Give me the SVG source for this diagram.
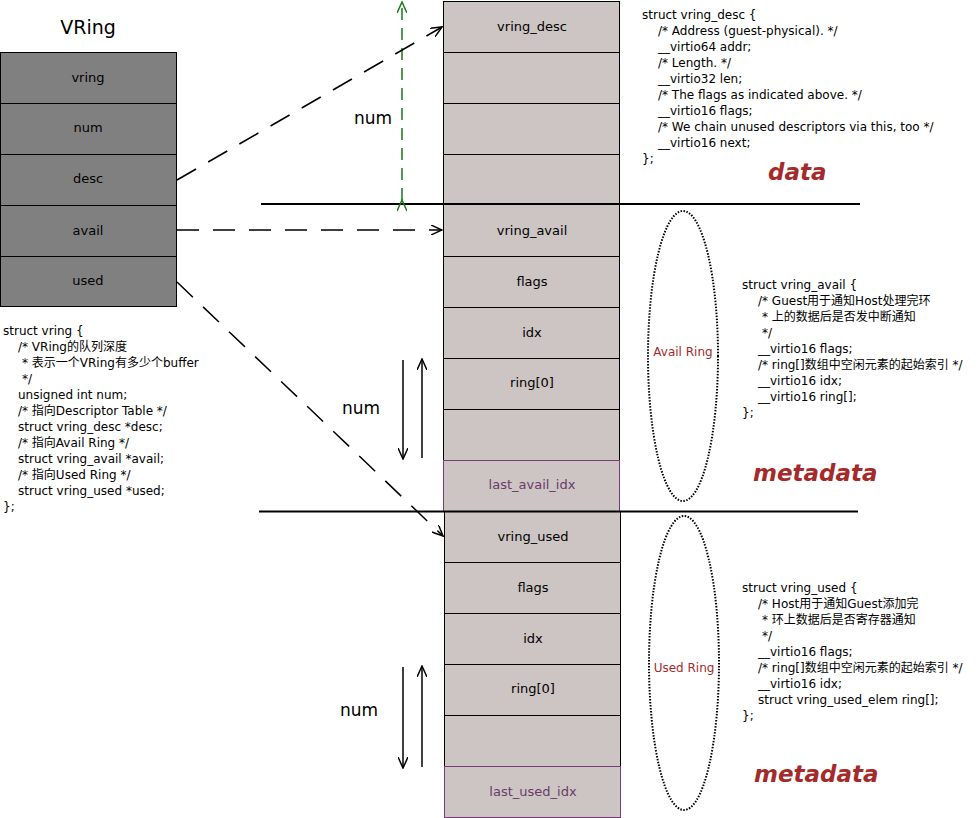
<svg xmlns="http://www.w3.org/2000/svg" width="978" height="818" viewBox="0 0 978 818">
<style>
text{font-family:"DejaVu Sans","Noto Sans CJK SC",sans-serif;fill:#000}
.l{fill:#808080;stroke:#000;stroke-width:1}
.c{fill:#cdc5c3;stroke:#000;stroke-width:1}
.cp{fill:#cdc5c3;stroke:#7a3a7a;stroke-width:1}
.t{font-size:13px;text-anchor:middle}
.tp{font-size:13px;text-anchor:middle;fill:#6a3a6a}
.code{font-size:12px}
.big{font-size:23px;font-weight:bold;font-style:italic;fill:#a52a2a}
.ring{font-size:12px;text-anchor:middle;fill:#a52a2a}
.num{font-size:17px}
.d{stroke:#000;stroke-width:1.5;fill:none;stroke-dasharray:22,14}
.a{stroke:#000;stroke-width:1.5;fill:none}
</style>
<defs>
<marker id="ah" markerWidth="12" markerHeight="10" refX="11" refY="5" orient="auto" markerUnits="userSpaceOnUse"><path d="M0,0 L11,5 L0,10" fill="none" stroke="#000" stroke-width="1.5"/></marker>
<marker id="ag" markerWidth="12" markerHeight="10" refX="11" refY="5" orient="auto" markerUnits="userSpaceOnUse"><path d="M0,0 L11,5 L0,10" fill="none" stroke="#1a7a1a" stroke-width="1.5"/></marker>
</defs>
<rect width="978" height="818" fill="#fff"/>
<text x="88" y="34" style="font-size:19px;text-anchor:middle">VRing</text>
<g id="vring-struct">
<rect class="l" x="0.5" y="52.5" width="176" height="51"/><text class="t" x="88" y="82">vring</text>
<rect class="l" x="0.5" y="103.5" width="176" height="51"/><text class="t" x="88" y="132">num</text>
<rect class="l" x="0.5" y="154.5" width="176" height="51"/><text class="t" x="88" y="183">desc</text>
<rect class="l" x="0.5" y="205.5" width="176" height="51"/><text class="t" x="88" y="235">avail</text>
<rect class="l" x="0.5" y="256.5" width="176" height="50"/><text class="t" x="88" y="285">used</text>
</g>
<g id="vring-code" class="code">
<text x="3" y="335">struct vring {</text>
<text x="18" y="351">/* VRing的队列深度</text>
<text x="22" y="367">* 表示一个VRing有多少个buffer</text>
<text x="22" y="383">*/</text>
<text x="18" y="399">unsigned int num;</text>
<text x="18" y="415">/* 指向Descriptor Table */</text>
<text x="18" y="431">struct vring_desc *desc;</text>
<text x="18" y="447">/* 指向Avail Ring */</text>
<text x="18" y="463">struct vring_avail *avail;</text>
<text x="18" y="479">/* 指向Used Ring */</text>
<text x="18" y="495">struct vring_used *used;</text>
<text x="3" y="511">};</text>
</g>
<g id="desc-table">
<rect class="c" x="443.5" y="1.5" width="176" height="51"/><text class="t" x="532" y="31">vring_desc</text>
<rect class="c" x="443.5" y="52.5" width="176" height="51"/>
<rect class="c" x="443.5" y="103.5" width="176" height="51"/>
<rect class="c" x="443.5" y="154.5" width="176" height="50"/>
</g>
<g id="avail-ring">
<rect class="c" x="443.5" y="204.5" width="176" height="52"/><text class="t" x="532" y="235">vring_avail</text>
<rect class="c" x="443.5" y="256.5" width="176" height="51"/><text class="t" x="532" y="286">flags</text>
<rect class="c" x="443.5" y="307.5" width="176" height="51"/><text class="t" x="532" y="337">idx</text>
<rect class="c" x="443.5" y="358.5" width="176" height="51"/><text class="t" x="532" y="387">ring[0]</text>
<rect class="c" x="443.5" y="409.5" width="176" height="51"/>
<rect class="cp" x="443.5" y="460.5" width="176" height="51"/><text class="tp" x="532" y="489">last_avail_idx</text>
</g>
<g id="used-ring">
<rect class="c" x="444.5" y="511.5" width="176" height="51"/><text class="t" x="533" y="541">vring_used</text>
<rect class="c" x="444.5" y="562.5" width="176" height="51"/><text class="t" x="533" y="592">flags</text>
<rect class="c" x="444.5" y="613.5" width="176" height="51"/><text class="t" x="533" y="643">idx</text>
<rect class="c" x="444.5" y="664.5" width="176" height="51"/><text class="t" x="533" y="693">ring[0]</text>
<rect class="c" x="444.5" y="715.5" width="176" height="51"/>
<rect class="cp" x="444.5" y="766.5" width="176" height="51"/><text class="tp" x="533" y="796">last_used_idx</text>
</g>
<g id="desc-code" class="code">
<text x="642" y="19">struct vring_desc {</text>
<text x="658" y="35">/* Address (guest-physical). */</text>
<text x="658" y="51">__virtio64 addr;</text>
<text x="658" y="67">/* Length. */</text>
<text x="658" y="83">__virtio32 len;</text>
<text x="658" y="99">/* The flags as indicated above. */</text>
<text x="658" y="115">__virtio16 flags;</text>
<text x="658" y="131">/* We chain unused descriptors via this, too */</text>
<text x="658" y="147">__virtio16 next;</text>
<text x="642" y="163">};</text>
</g>
<g id="avail-code" class="code">
<text x="742" y="289">struct vring_avail {</text>
<text x="758" y="305">/* Guest用于通知Host处理完环</text>
<text x="762" y="321">* 上的数据后是否发中断通知</text>
<text x="762" y="337">*/</text>
<text x="758" y="353">__virtio16 flags;</text>
<text x="758" y="369">/* ring[]数组中空闲元素的起始索引 */</text>
<text x="758" y="385">__virtio16 idx;</text>
<text x="758" y="401">__virtio16 ring[];</text>
<text x="742" y="417">};</text>
</g>
<g id="used-code" class="code">
<text x="742" y="592">struct vring_used {</text>
<text x="758" y="608">/* Host用于通知Guest添加完</text>
<text x="762" y="624">* 环上数据后是否寄存器通知</text>
<text x="762" y="640">*/</text>
<text x="758" y="656">__virtio16 flags;</text>
<text x="758" y="672">/* ring[]数组中空闲元素的起始索引 */</text>
<text x="758" y="688">__virtio16 idx;</text>
<text x="758" y="704">struct vring_used_elem ring[];</text>
<text x="742" y="720">};</text>
</g>
<g id="labels">
<text class="big" x="768" y="180">data</text>
<text class="big" x="753" y="481">metadata</text>
<text class="big" x="754" y="782">metadata</text>
<ellipse cx="683" cy="356" rx="35" ry="145" fill="none" stroke="#000" stroke-width="2" stroke-dasharray="1.5,1.5"/>
<text class="ring" x="683" y="356">Avail Ring</text>
<ellipse cx="684" cy="663" rx="35" ry="147" fill="none" stroke="#000" stroke-width="2" stroke-dasharray="1.5,1.5"/>
<text class="ring" x="684" y="672">Used Ring</text>
<text class="num" x="354" y="124">num</text>
<text class="num" x="342" y="414">num</text>
<text class="num" x="340" y="716">num</text>
</g>
<g id="connectors">
<line x1="261" y1="204" x2="860" y2="204" stroke="#000" stroke-width="2"/>
<line x1="259" y1="511.5" x2="858" y2="511.5" stroke="#000" stroke-width="2"/>
<line x1="402" y1="200" x2="402" y2="2" stroke="#1a7a1a" stroke-width="1.5" stroke-dasharray="12,8" marker-end="url(#ag)" marker-start="url(#ag)"/>
<line class="d" x1="177" y1="180" x2="442" y2="27" marker-end="url(#ah)"/>
<line class="d" x1="177" y1="230" x2="442" y2="230" marker-end="url(#ah)"/>
<line class="d" x1="177" y1="282" x2="443" y2="536" marker-end="url(#ah)"/>
<line class="a" x1="403" y1="360" x2="403" y2="459" marker-end="url(#ah)"/>
<line class="a" x1="422" y1="458" x2="422" y2="359" marker-end="url(#ah)"/>
<line class="a" x1="403" y1="667" x2="403" y2="768" marker-end="url(#ah)"/>
<line class="a" x1="422" y1="767" x2="422" y2="666" marker-end="url(#ah)"/>
</g>
</svg>
